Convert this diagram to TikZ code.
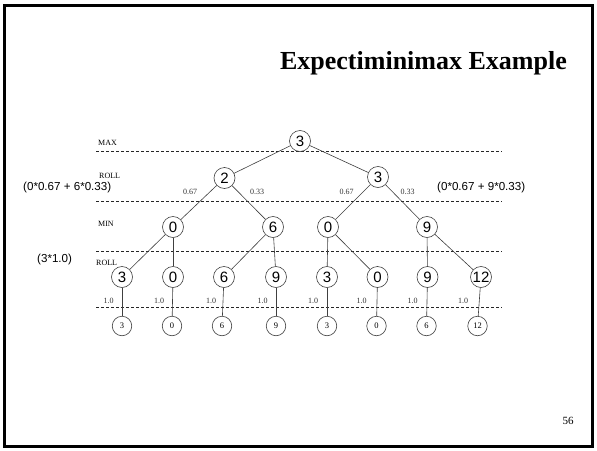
\documentclass[tikz,border=0pt]{standalone}
\usepackage{fontspec}
\setmainfont{Liberation Serif}
\newfontfamily\arial{Liberation Sans}
\begin{document}
\begin{tikzpicture}[x=1pt,y=-1pt,
  bignode/.style={circle,draw=black!75,line width=0.6pt,minimum size=21pt,inner sep=0pt,font=\arial\fontsize{15}{15}\selectfont},
  leafnode/.style={circle,draw=black!75,line width=0.6pt,minimum size=19.5pt,inner sep=0pt,font=\fontsize{8.5}{8.5}\selectfont},
  conn/.style={draw=black!75,line width=0.6pt},
  levelline/.style={dash pattern=on 3pt off 2pt,line width=0.6pt,draw=black!85},
  lvl/.style={font=\fontsize{8}{8}\selectfont,anchor=west,inner sep=0pt},
  prob/.style={font=\fontsize{8}{8}\selectfont,inner sep=0pt,text=black!80},
  calctext/.style={font=\arial\fontsize{11.6}{11.6}\selectfont,anchor=west,inner sep=0pt}]
\useasboundingbox (0,0) rectangle (597,450);
\fill[white] (0,0) rectangle (597,450);
\draw[line width=3pt] (4.5,5.5) rectangle (592,446);

\node[anchor=base east,inner sep=0pt,font=\bfseries\fontsize{26}{26}\selectfont] (title) at (567,69) {Expectiminimax Example};
\node[font=\fontsize{11}{11}\selectfont] (pg) at (568,421) {56};

% level lines
\foreach \yy in {151.5,201,251,307}
  \draw[levelline] (96,\yy) -- (502,\yy);

% level labels
\node[lvl] (lmax) at (98,142.5) {MAX};
\node[lvl] (lroll1) at (99,176) {ROLL};
\node[lvl] (lmin) at (98,223.5) {MIN};
\node[lvl] (lroll2) at (96,263) {ROLL};

% nodes
\node[bignode] (r) at (300,141) {3};
\node[bignode] (a1) at (224.5,178) {2};
\node[bignode] (a2) at (378,177) {3};
\node[bignode] (b1) at (173,227) {0};
\node[bignode] (b2) at (273,227) {6};
\node[bignode] (b3) at (328,227) {0};
\node[bignode] (b4) at (427,227) {9};
\node[bignode] (c1) at (122,277) {3};
\node[bignode] (c2) at (173,277) {0};
\node[bignode] (c3) at (224,277) {6};
\node[bignode] (c4) at (276,277) {9};
\node[bignode] (c5) at (327,277) {3};
\node[bignode] (c6) at (377.5,277) {0};
\node[bignode] (c7) at (427.5,277) {9};
\node[bignode] (c8) at (481,277) {12};
\node[leafnode] (d1) at (122,326) {3};
\node[leafnode] (d2) at (172,326) {0};
\node[leafnode] (d3) at (222,326) {6};
\node[leafnode] (d4) at (276,326) {9};
\node[leafnode] (d5) at (327,326) {3};
\node[leafnode] (d6) at (376.5,326) {0};
\node[leafnode] (d7) at (426.5,326) {6};
\node[leafnode] (d8) at (477.5,326) {12};

% edges
\draw[conn] (r) -- (a1);
\draw[conn] (r) -- (a2);
\draw[conn] (a1) -- (b1);
\draw[conn] (a1) -- (b2);
\draw[conn] (a2) -- (b3);
\draw[conn] (a2) -- (b4);
\draw[conn] (b1) -- (c1);
\draw[conn] (b1) -- (c2);
\draw[conn] (b2) -- (c3);
\draw[conn] (b2) -- (c4);
\draw[conn] (b3) -- (c5);
\draw[conn] (b3) -- (c6);
\draw[conn] (b4) -- (c7);
\draw[conn] (b4) -- (c8);
\foreach \i in {1,...,8}
  \draw[conn] (c\i) -- (d\i);

% probabilities
\node[prob] (p1) at (190,192) {0.67};
\node[prob] (p2) at (257,192) {0.33};
\node[prob] (p3) at (346.5,192) {0.67};
\node[prob] (p4) at (407.5,192) {0.33};
\node[prob] (q1) at (108.5,301) {1.0};
\node[prob] (q2) at (159,301) {1.0};
\node[prob] (q3) at (211,301) {1.0};
\node[prob] (q4) at (262.5,301) {1.0};
\node[prob] (q5) at (313,301) {1.0};
\node[prob] (q6) at (361.5,301) {1.0};
\node[prob] (q7) at (412.5,301) {1.0};
\node[prob] (q8) at (463,301) {1.0};

% calculations
\node[calctext] (cl) at (23,187) {(0*0.67 + 6*0.33)};
\node[calctext] (cr) at (437,187) {(0*0.67 + 9*0.33)};
\node[calctext] (c3t) at (37,259) {(3*1.0)};
\end{tikzpicture}
\end{document}
